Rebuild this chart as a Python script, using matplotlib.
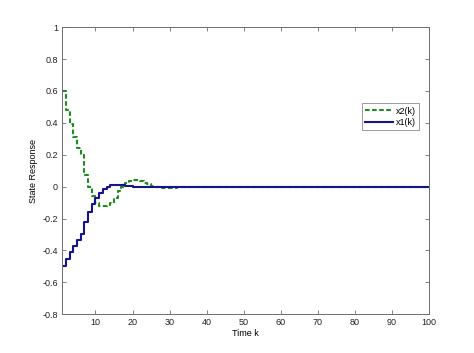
import numpy as np
import matplotlib.pyplot as plt

# time steps
k = np.arange(1, 101)

# state x2(k) (k = 1..40), zero afterwards
x2_head = [0.60, 0.48, 0.39, 0.31, 0.245, 0.20, 0.075, 0.0, -0.06, -0.10,
           -0.12, -0.12, -0.115, -0.10, -0.07, -0.03, 0.0, 0.02, 0.035, 0.04,
           0.04, 0.035, 0.025, 0.015, 0.005, 0.0, -0.005, -0.007, -0.008, -0.007,
           -0.006, -0.004, -0.002, 0.0, 0.0, 0.0, 0.0, 0.0, 0.0, 0.0]
# state x1(k)
x1_head = [-0.50, -0.455, -0.41, -0.37, -0.335, -0.30, -0.225, -0.16, -0.11, -0.07,
           -0.04, -0.015, 0.0, 0.008, 0.01, 0.01, 0.008, 0.005, 0.003, 0.0,
           -0.002, -0.003, -0.004, -0.004, -0.003, -0.002, -0.001, 0.0, 0.0, 0.0,
           0.0, 0.0, 0.0, 0.0, 0.0, 0.0, 0.0, 0.0, 0.0, 0.0]
tail = [0.0, 0.0, 0.0, 0.0, 0.0, 0.0, 0.0, 0.0, 0.0, 0.0,
        0.0, 0.0, 0.0, 0.0, 0.0, 0.0, 0.0, 0.0, 0.0, 0.0,
        0.0, 0.0, 0.0, 0.0, 0.0, 0.0, 0.0, 0.0, 0.0, 0.0,
        0.0, 0.0, 0.0, 0.0, 0.0, 0.0, 0.0, 0.0, 0.0, 0.0,
        0.0, 0.0, 0.0, 0.0, 0.0, 0.0, 0.0, 0.0, 0.0, 0.0,
        0.0, 0.0, 0.0, 0.0, 0.0, 0.0, 0.0, 0.0, 0.0, 0.0]
x2 = np.array(x2_head + tail)
x1 = np.array(x1_head + tail)

xticks = [10, 20, 30, 40, 50, 60, 70, 80, 90, 100]
yticks = [-0.8, -0.6, -0.4, -0.2, 0, 0.2, 0.4, 0.6, 0.8, 1]
ytick_labels = ['-0.8', '-0.6', '-0.4', '-0.2', '0', '0.2', '0.4', '0.6', '0.8', '1']

plt.rcParams['font.family'] = ['Liberation Sans', 'DejaVu Sans']
axcol = '#6e6e6e'

fig = plt.figure(figsize=(4.74, 3.53), dpi=100)
ax = fig.add_axes([0.131, 0.110, 0.774, 0.813])

ax.step(k, x2, where='post', color='#1f8a1f', linestyle=(0, (2.2, 1.2)),
        linewidth=1.5, label='x2(k)')
ax.step(k, x1, where='post', color='#14148c', linewidth=1.5, label='x1(k)')

ax.set_xlim(1, 100)
ax.set_ylim(-0.8, 1)
ax.set_xticks(xticks)
ax.set_yticks(yticks)
ax.set_yticklabels(ytick_labels)
ax.tick_params(direction='in', top=True, right=True, length=3, width=0.6,
               labelsize=6.5, colors=axcol, labelcolor='#222222', pad=3)
for s in ax.spines.values():
    s.set_color(axcol)
    s.set_linewidth(0.7)

ax.set_xlabel('Time k', fontsize=6.5, labelpad=1)
ax.set_ylabel('State Response', fontsize=6.5, labelpad=3)

leg = ax.legend(loc='upper right', bbox_to_anchor=(0.986, 0.75), fontsize=6.5,
                frameon=True, fancybox=False, handlelength=3.0,
                borderpad=0.35, labelspacing=0.25, handletextpad=0.4)
leg.get_frame().set_edgecolor(axcol)
leg.get_frame().set_linewidth(0.6)

fig.savefig('out.png', dpi=100)
